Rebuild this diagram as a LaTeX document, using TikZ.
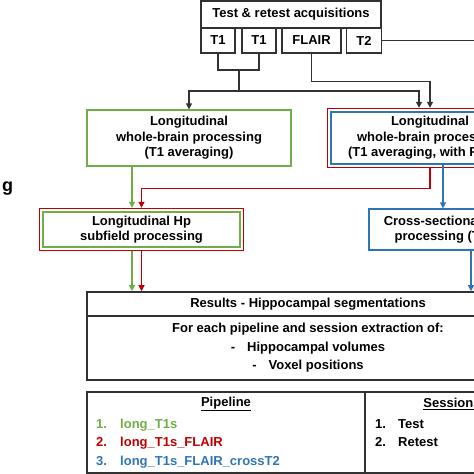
\documentclass[tikz,border=0pt]{standalone}
\usepackage{fontspec}
\setmainfont{Liberation Sans}
\usetikzlibrary{arrows.meta,fit}
\definecolor{grn}{RGB}{112,173,71}
\definecolor{rd}{RGB}{192,0,0}
\definecolor{blu}{RGB}{46,117,182}
\definecolor{darkline}{RGB}{50,50,50}

\begin{document}
\begin{tikzpicture}[x=1pt, y=-1pt,
  every node/.style={font=\fontsize{13}{15.5}\bfseries\selectfont},
  box/.style={draw=darkline, line width=1.2pt, align=center, inner sep=0pt},
  scan/.style={box, minimum height=25pt},
  grnbox/.style={box, draw=grn},
  blubox/.style={box, draw=blu},
  redframe/.style={draw=rd, line width=1.2pt, inner sep=3pt},
  resbox/.style={box, line width=1.6pt, minimum width=442pt},
  txt/.style={anchor=base west, inner sep=0pt},
  arr/.style={-{Triangle[length=6pt,width=6pt]}, line width=1.2pt},
  ln/.style={line width=1.2pt, draw=darkline}
]
  \useasboundingbox (0,0) rectangle (474,474);
  \clip (0,0) rectangle (474,474);

  % acquisitions
  \node[box, minimum width=180pt, minimum height=27pt] (acq) at (291,14.5) {Test \& retest acquisitions};
  \node[scan, minimum width=34pt] (t1a) at (218,40.5) {T1};
  \node[scan, minimum width=34pt] (t1b) at (259,40.5) {T1};
  \node[scan, minimum width=59pt] (flair) at (311.5,40.5) {FLAIR};
  \node[scan, minimum width=35pt] (t2) at (364,40.5) {T2};

  % processing
  \node[grnbox, minimum width=204pt, minimum height=56pt] (longa) at (189,138) {Longitudinal\\whole-brain processing\\(T1 averaging)};
  \node[blubox, minimum width=198pt, minimum height=52pt] (longb) at (430,138) {Longitudinal\\whole-brain processing\\(T1 averaging, with FLAIR)};
  \node[redframe, fit=(longb)] (longbo) {};
  \node[grnbox, minimum width=197pt, minimum height=35pt] (hp) at (141.5,229.5) {Longitudinal Hp\\subfield processing};
  \node[redframe, fit=(hp)] (hpo) {};
  \node[blubox, minimum width=148pt, minimum height=41pt] (cross) at (443,229.5) {Cross-sectional Hp\\processing (T2)};
  \node[txt, font=\fontsize{18}{20}\bfseries\selectfont] (lbl) at (2,191.5) {g};

  % results
  \node[resbox, minimum height=24pt] (res) at (308,304) {Results - Hippocampal segmentations};
  \node[resbox, minimum height=64pt] (ext) at (308,348) {For each pipeline and session extraction of:\\[3pt]-\hspace{12pt}Hippocampal volumes\\[3pt]-\hspace{12pt}Voxel positions};

  % legend table
  \node[resbox, minimum width=278pt, minimum height=81pt] (pipe) at (226,432.5) {};
  \node[resbox, minimum width=174pt, minimum height=81pt] (sess) at (452,432.5) {};
  \node (pipehd) at (226,404) {\underline{Pipeline}};
  \node (sesshd) at (452,404) {\underline{Sessions}};
  \node[txt, text=grn] (n1) at (96,428) {1.};
  \node[txt, text=grn] (p1) at (120,428) {long\_T1s};
  \node[txt, text=rd] (n2) at (96,446.5) {2.};
  \node[txt, text=rd] (p2) at (120,446.5) {long\_T1s\_FLAIR};
  \node[txt, text=blu] (n3) at (96,465) {3.};
  \node[txt, text=blu] (p3) at (120,465) {long\_T1s\_FLAIR\_crossT2};
  \node[txt] (m1) at (375,428) {1.};
  \node[txt] (s1) at (398,428) {Test};
  \node[txt] (m2) at (375,446.5) {2.};
  \node[txt] (s2) at (398,446.5) {Retest};

  % connectors
  \coordinate (join) at (239,70);
  \coordinate (split) at (239,91);
  \draw[ln] (t1a.south) |- (join) -| (t1b.south);
  \draw[ln] (join) -- (split);
  \draw[ln, arr] (split) -| (longa.north);
  \draw[ln, arr] (split) -| ([xshift=-11pt]longbo.north);
  \draw[ln, arr] (flair.south) -- ++(0,28) -| (longbo.north);
  \draw[ln] (t2.east) -- ++(120,0);

  \draw[arr, grn] ([xshift=-57pt]longa.south) -- ([xshift=-57pt]longa.south |- hpo.north);
  \draw[arr, rd] (longbo.south) -- ++(0,20) -| (hpo.north);
  \draw[arr, blu] (cross.north |- longb.south) -- (cross.north);

  \draw[arr, grn] ([xshift=-9.5pt]hpo.south) -- ([xshift=-9.5pt]hpo.south |- res.north);
  \draw[arr, rd] (hpo.south) -- (hpo.south |- res.north);
  \draw[arr, blu] ([xshift=28pt]cross.south) -- ([xshift=28pt]cross.south |- res.north);
\end{tikzpicture}
\end{document}
